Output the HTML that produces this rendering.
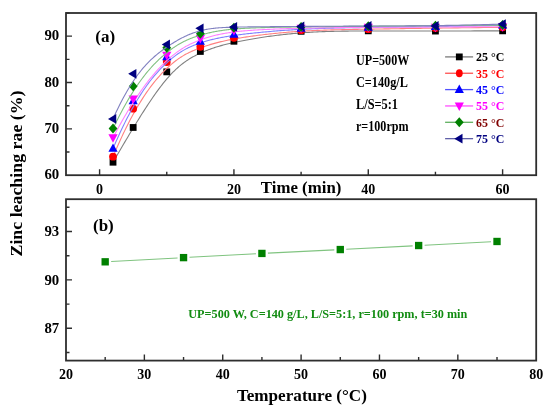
<!DOCTYPE html>
<html><head><meta charset="utf-8"><title>Zinc leaching rate</title><style>
html,body{margin:0;padding:0;background:#fff;width:550px;height:411px;overflow:hidden;}
svg{display:block;}
</style></head><body>
<svg width="550" height="411" viewBox="0 0 550 411">
<rect width="550" height="411" fill="#fff"/>
<polyline points="113.02,162.22 114.53,159.62 116.03,157.04 117.52,154.49 118.99,151.97 120.45,149.47 121.90,147.00 123.34,144.56 124.76,142.15 126.17,139.77 127.57,137.42 128.96,135.09 130.33,132.80 131.70,130.54 133.05,128.31 134.39,126.11 135.71,123.94 137.03,121.80 138.33,119.69 139.62,117.62 140.90,115.58 142.17,113.57 143.43,111.59 144.68,109.65 145.91,107.75 147.13,105.87 148.34,104.04 149.54,102.23 150.73,100.47 151.91,98.74 153.07,97.04 154.23,95.38 155.37,93.76 156.51,92.17 157.63,90.63 158.74,89.12 159.84,87.64 160.93,86.21 162.01,84.82 163.08,83.46 164.13,82.14 165.18,80.87 166.22,79.63 167.24,78.43 168.26,77.27 169.27,76.14 170.27,75.05 171.26,73.99 172.24,72.97 173.21,71.98 174.17,71.02 175.13,70.09 176.08,69.20 177.02,68.33 177.95,67.49 178.88,66.68 179.80,65.90 180.72,65.14 181.62,64.41 182.53,63.70 183.42,63.02 184.32,62.36 185.20,61.72 186.09,61.10 186.96,60.50 187.84,59.93 188.71,59.37 189.57,58.83 190.44,58.30 191.30,57.79 192.15,57.30 193.01,56.82 193.86,56.36 194.71,55.91 195.56,55.47 196.40,55.04 197.25,54.62 198.09,54.21 198.94,53.81 199.78,53.42 200.62,53.04 201.47,52.66 202.31,52.29 203.16,51.92 204.00,51.56 204.85,51.20 205.71,50.85 206.56,50.51 207.42,50.17 208.28,49.84 209.15,49.51 210.03,49.19 210.91,48.87 211.79,48.55 212.69,48.24 213.59,47.94 214.50,47.64 215.42,47.34 216.35,47.04 217.28,46.75 218.23,46.46 219.19,46.18 220.16,45.90 221.14,45.62 222.14,45.35 223.14,45.07 224.16,44.80 225.20,44.53 226.25,44.27 227.31,44.00 228.39,43.74 229.49,43.48 230.60,43.22 231.73,42.96 232.88,42.71 234.04,42.45 235.23,42.20 236.43,41.94 237.65,41.69 238.90,41.43 240.16,41.18 241.45,40.93 242.75,40.68 244.08,40.42 245.42,40.17 246.79,39.92 248.17,39.67 249.57,39.42 250.99,39.18 252.42,38.93 253.87,38.69 255.34,38.44 256.82,38.20 258.31,37.97 259.82,37.73 261.34,37.49 262.88,37.26 264.43,37.03 265.99,36.81 267.56,36.58 269.14,36.36 270.73,36.14 272.33,35.93 273.94,35.72 275.56,35.51 277.19,35.31 278.83,35.11 280.47,34.91 282.12,34.72 283.77,34.53 285.43,34.35 287.10,34.17 288.77,34.00 290.44,33.83 292.12,33.67 293.80,33.51 295.48,33.36 297.17,33.21 298.85,33.07 300.54,32.93 302.22,32.80 303.91,32.68 305.60,32.56 307.29,32.45 308.98,32.34 310.67,32.24 312.37,32.14 314.07,32.05 315.77,31.96 317.48,31.88 319.19,31.81 320.91,31.73 322.64,31.66 324.37,31.60 326.11,31.54 327.86,31.48 329.62,31.43 331.38,31.38 333.15,31.34 334.94,31.30 336.73,31.26 338.54,31.23 340.35,31.19 342.18,31.16 344.02,31.14 345.88,31.11 347.75,31.09 349.63,31.07 351.53,31.06 353.44,31.04 355.37,31.03 357.31,31.02 359.27,31.01 361.25,31.00 363.25,30.99 365.26,30.99 367.30,30.99 369.35,30.98 371.42,30.98 373.52,30.98 375.63,30.98 377.77,30.98 379.94,30.97 382.13,30.97 384.35,30.98 386.61,30.98 388.91,30.98 391.24,30.98 393.62,30.98 396.04,30.98 398.51,30.98 401.03,30.98 403.60,30.98 406.23,30.99 408.91,30.99 411.65,30.99 414.46,30.99 417.34,30.99 420.28,30.99 423.29,30.99 426.38,30.99 429.55,30.99 432.79,30.99 436.11,30.98 439.52,30.98 443.02,30.98 446.61,30.97 450.29,30.97 454.06,30.96 457.93,30.96 461.90,30.95 465.98,30.94 470.16,30.93 474.45,30.92 478.85,30.91 483.37,30.90 488.00,30.89 492.75,30.87 497.62,30.86 502.61,30.84" fill="none" stroke="#808080" stroke-width="1.1" stroke-linejoin="round"/>
<rect x="109.62" y="158.82" width="6.80" height="6.80" fill="#000000"/>
<rect x="129.77" y="124.07" width="6.80" height="6.80" fill="#000000"/>
<rect x="163.36" y="68.46" width="6.80" height="6.80" fill="#000000"/>
<rect x="196.94" y="48.06" width="6.80" height="6.80" fill="#000000"/>
<rect x="230.53" y="37.87" width="6.80" height="6.80" fill="#000000"/>
<rect x="297.70" y="27.91" width="6.80" height="6.80" fill="#000000"/>
<rect x="364.87" y="27.44" width="6.80" height="6.80" fill="#000000"/>
<rect x="432.04" y="27.67" width="6.80" height="6.80" fill="#000000"/>
<rect x="499.21" y="27.44" width="6.80" height="6.80" fill="#000000"/>
<polyline points="113.02,156.66 114.53,153.10 116.03,149.62 117.52,146.24 118.99,142.94 120.45,139.74 121.90,136.61 123.34,133.58 124.76,130.62 126.17,127.75 127.57,124.96 128.96,122.24 130.33,119.61 131.70,117.05 133.05,114.56 134.39,112.14 135.71,109.80 137.03,107.52 138.33,105.32 139.62,103.18 140.90,101.11 142.17,99.10 143.43,97.15 144.68,95.26 145.91,93.43 147.13,91.66 148.34,89.95 149.54,88.29 150.73,86.68 151.91,85.13 153.07,83.63 154.23,82.17 155.37,80.76 156.51,79.40 157.63,78.09 158.74,76.81 159.84,75.58 160.93,74.39 162.01,73.24 163.08,72.12 164.13,71.04 165.18,69.99 166.22,68.98 167.24,68.00 168.26,67.05 169.27,66.14 170.27,65.25 171.26,64.39 172.24,63.57 173.21,62.77 174.17,61.99 175.13,61.25 176.08,60.53 177.02,59.83 177.95,59.16 178.88,58.52 179.80,57.89 180.72,57.29 181.62,56.71 182.53,56.15 183.42,55.61 184.32,55.09 185.20,54.59 186.09,54.10 186.96,53.63 187.84,53.18 188.71,52.74 189.57,52.32 190.44,51.91 191.30,51.51 192.15,51.12 193.01,50.75 193.86,50.39 194.71,50.03 195.56,49.69 196.40,49.35 197.25,49.03 198.09,48.70 198.94,48.39 199.78,48.08 200.62,47.77 201.47,47.47 202.31,47.17 203.16,46.88 204.00,46.59 204.85,46.30 205.71,46.01 206.56,45.73 207.42,45.46 208.28,45.18 209.15,44.91 210.03,44.65 210.91,44.38 211.79,44.12 212.69,43.86 213.59,43.61 214.50,43.35 215.42,43.10 216.35,42.86 217.28,42.61 218.23,42.37 219.19,42.13 220.16,41.89 221.14,41.66 222.14,41.42 223.14,41.19 224.16,40.96 225.20,40.74 226.25,40.51 227.31,40.29 228.39,40.07 229.49,39.84 230.60,39.63 231.73,39.41 232.88,39.19 234.04,38.98 235.23,38.76 236.43,38.55 237.65,38.34 238.90,38.13 240.16,37.92 241.45,37.71 242.75,37.50 244.08,37.30 245.42,37.09 246.79,36.89 248.17,36.69 249.57,36.49 250.99,36.29 252.42,36.09 253.87,35.89 255.34,35.70 256.82,35.50 258.31,35.31 259.82,35.12 261.34,34.94 262.88,34.75 264.43,34.57 265.99,34.39 267.56,34.21 269.14,34.04 270.73,33.86 272.33,33.70 273.94,33.53 275.56,33.36 277.19,33.20 278.83,33.04 280.47,32.89 282.12,32.74 283.77,32.59 285.43,32.44 287.10,32.30 288.77,32.16 290.44,32.03 292.12,31.90 293.80,31.77 295.48,31.65 297.17,31.53 298.85,31.41 300.54,31.30 302.22,31.20 303.91,31.09 305.60,30.99 307.29,30.90 308.98,30.81 310.67,30.72 312.37,30.64 314.07,30.56 315.77,30.48 317.48,30.41 319.19,30.34 320.91,30.27 322.64,30.20 324.37,30.14 326.11,30.08 327.86,30.02 329.62,29.97 331.38,29.92 333.15,29.87 334.94,29.82 336.73,29.77 338.54,29.73 340.35,29.68 342.18,29.64 344.02,29.60 345.88,29.56 347.75,29.53 349.63,29.49 351.53,29.45 353.44,29.42 355.37,29.39 357.31,29.35 359.27,29.32 361.25,29.29 363.25,29.25 365.26,29.22 367.30,29.19 369.35,29.16 371.42,29.12 373.52,29.09 375.63,29.06 377.77,29.02 379.94,28.99 382.13,28.95 384.35,28.92 386.61,28.88 388.91,28.84 391.24,28.81 393.62,28.77 396.04,28.73 398.51,28.69 401.03,28.65 403.60,28.61 406.23,28.57 408.91,28.53 411.65,28.49 414.46,28.45 417.34,28.41 420.28,28.37 423.29,28.32 426.38,28.28 429.55,28.24 432.79,28.19 436.11,28.15 439.52,28.10 443.02,28.06 446.61,28.01 450.29,27.96 454.06,27.92 457.93,27.87 461.90,27.82 465.98,27.77 470.16,27.72 474.45,27.67 478.85,27.62 483.37,27.57 488.00,27.52 492.75,27.47 497.62,27.42 502.61,27.37" fill="none" stroke="#ff8080" stroke-width="1.1" stroke-linejoin="round"/>
<ellipse cx="113.02" cy="156.66" rx="3.90" ry="3.90" fill="#ff0000"/>
<ellipse cx="133.17" cy="108.70" rx="3.90" ry="3.90" fill="#ff0000"/>
<ellipse cx="166.76" cy="62.12" rx="3.90" ry="3.90" fill="#ff0000"/>
<ellipse cx="200.34" cy="46.83" rx="3.90" ry="3.90" fill="#ff0000"/>
<ellipse cx="233.93" cy="37.79" rx="3.90" ry="3.90" fill="#ff0000"/>
<ellipse cx="301.10" cy="30.15" rx="3.90" ry="3.90" fill="#ff0000"/>
<ellipse cx="368.27" cy="29.22" rx="3.90" ry="3.90" fill="#ff0000"/>
<ellipse cx="435.44" cy="28.06" rx="3.90" ry="3.90" fill="#ff0000"/>
<ellipse cx="502.61" cy="27.37" rx="3.90" ry="3.90" fill="#ff0000"/>
<polyline points="113.02,148.55 114.53,145.02 116.03,141.59 117.52,138.25 118.99,135.00 120.45,131.84 121.90,128.76 123.34,125.78 124.76,122.88 126.17,120.06 127.57,117.33 128.96,114.67 130.33,112.10 131.70,109.60 133.05,107.17 134.39,104.82 135.71,102.54 137.03,100.34 138.33,98.20 139.62,96.12 140.90,94.12 142.17,92.18 143.43,90.30 144.68,88.48 145.91,86.72 147.13,85.01 148.34,83.37 149.54,81.78 150.73,80.24 151.91,78.75 153.07,77.31 154.23,75.92 155.37,74.57 156.51,73.27 157.63,72.01 158.74,70.80 159.84,69.62 160.93,68.48 162.01,67.38 163.08,66.31 164.13,65.27 165.18,64.27 166.22,63.30 167.24,62.36 168.26,61.45 169.27,60.56 170.27,59.71 171.26,58.88 172.24,58.08 173.21,57.31 174.17,56.57 175.13,55.84 176.08,55.15 177.02,54.47 177.95,53.82 178.88,53.19 179.80,52.59 180.72,52.00 181.62,51.44 182.53,50.89 183.42,50.36 184.32,49.86 185.20,49.37 186.09,48.89 186.96,48.44 187.84,48.00 188.71,47.57 189.57,47.16 190.44,46.76 191.30,46.38 192.15,46.01 193.01,45.65 193.86,45.30 194.71,44.96 195.56,44.64 196.40,44.32 197.25,44.01 198.09,43.70 198.94,43.41 199.78,43.12 200.62,42.84 201.47,42.56 202.31,42.29 203.16,42.02 204.00,41.76 204.85,41.50 205.71,41.25 206.56,41.00 207.42,40.75 208.28,40.52 209.15,40.28 210.03,40.05 210.91,39.82 211.79,39.60 212.69,39.38 213.59,39.17 214.50,38.95 215.42,38.75 216.35,38.54 217.28,38.34 218.23,38.14 219.19,37.94 220.16,37.75 221.14,37.56 222.14,37.37 223.14,37.19 224.16,37.01 225.20,36.82 226.25,36.65 227.31,36.47 228.39,36.29 229.49,36.12 230.60,35.95 231.73,35.78 232.88,35.61 234.04,35.44 235.23,35.28 236.43,35.11 237.65,34.95 238.90,34.79 240.16,34.62 241.45,34.46 242.75,34.30 244.08,34.14 245.42,33.98 246.79,33.82 248.17,33.66 249.57,33.50 250.99,33.35 252.42,33.19 253.87,33.04 255.34,32.89 256.82,32.73 258.31,32.58 259.82,32.44 261.34,32.29 262.88,32.14 264.43,32.00 265.99,31.86 267.56,31.72 269.14,31.58 270.73,31.44 272.33,31.31 273.94,31.17 275.56,31.04 277.19,30.91 278.83,30.79 280.47,30.66 282.12,30.54 283.77,30.42 285.43,30.30 287.10,30.19 288.77,30.08 290.44,29.97 292.12,29.86 293.80,29.75 295.48,29.65 297.17,29.55 298.85,29.46 300.54,29.37 302.22,29.28 303.91,29.19 305.60,29.11 307.29,29.03 308.98,28.95 310.67,28.87 312.37,28.80 314.07,28.73 315.77,28.66 317.48,28.60 319.19,28.53 320.91,28.47 322.64,28.41 324.37,28.36 326.11,28.30 327.86,28.25 329.62,28.20 331.38,28.15 333.15,28.11 334.94,28.06 336.73,28.02 338.54,27.97 340.35,27.93 342.18,27.89 344.02,27.86 345.88,27.82 347.75,27.78 349.63,27.75 351.53,27.72 353.44,27.68 355.37,27.65 357.31,27.62 359.27,27.59 361.25,27.56 363.25,27.53 365.26,27.50 367.30,27.47 369.35,27.45 371.42,27.42 373.52,27.39 375.63,27.36 377.77,27.33 379.94,27.31 382.13,27.28 384.35,27.25 386.61,27.22 388.91,27.19 391.24,27.16 393.62,27.13 396.04,27.10 398.51,27.07 401.03,27.04 403.60,27.00 406.23,26.97 408.91,26.93 411.65,26.89 414.46,26.85 417.34,26.81 420.28,26.77 423.29,26.72 426.38,26.67 429.55,26.62 432.79,26.57 436.11,26.52 439.52,26.46 443.02,26.41 446.61,26.35 450.29,26.28 454.06,26.22 457.93,26.15 461.90,26.08 465.98,26.00 470.16,25.92 474.45,25.84 478.85,25.76 483.37,25.67 488.00,25.58 492.75,25.48 497.62,25.38 502.61,25.28" fill="none" stroke="#8080ff" stroke-width="1.1" stroke-linejoin="round"/>
<polygon points="113.02,143.55 117.62,151.85 108.42,151.85" fill="#0000ff"/>
<polygon points="133.17,96.05 137.77,104.35 128.57,104.35" fill="#0000ff"/>
<polygon points="166.76,52.03 171.36,60.33 162.16,60.33" fill="#0000ff"/>
<polygon points="200.34,36.50 204.94,44.80 195.74,44.80" fill="#0000ff"/>
<polygon points="233.93,29.55 238.53,37.85 229.33,37.85" fill="#0000ff"/>
<polygon points="301.10,23.52 305.70,31.82 296.50,31.82" fill="#0000ff"/>
<polygon points="368.27,22.37 372.87,30.67 363.67,30.67" fill="#0000ff"/>
<polygon points="435.44,21.67 440.04,29.97 430.84,29.97" fill="#0000ff"/>
<polygon points="502.61,20.28 507.21,28.58 498.01,28.58" fill="#0000ff"/>
<polyline points="113.02,137.66 114.53,134.78 116.03,131.96 117.52,129.20 118.99,126.50 120.45,123.87 121.90,121.29 123.34,118.77 124.76,116.31 126.17,113.91 127.57,111.56 128.96,109.27 130.33,107.03 131.70,104.84 133.05,102.71 134.39,100.63 135.71,98.60 137.03,96.63 138.33,94.70 139.62,92.82 140.90,90.99 142.17,89.20 143.43,87.47 144.68,85.77 145.91,84.13 147.13,82.52 148.34,80.96 149.54,79.44 150.73,77.96 151.91,76.53 153.07,75.13 154.23,73.77 155.37,72.45 156.51,71.17 157.63,69.92 158.74,68.71 159.84,67.54 160.93,66.40 162.01,65.29 163.08,64.21 164.13,63.17 165.18,62.15 166.22,61.17 167.24,60.22 168.26,59.29 169.27,58.40 170.27,57.53 171.26,56.68 172.24,55.87 173.21,55.08 174.17,54.31 175.13,53.57 176.08,52.85 177.02,52.16 177.95,51.49 178.88,50.84 179.80,50.21 180.72,49.60 181.62,49.01 182.53,48.44 183.42,47.89 184.32,47.36 185.20,46.85 186.09,46.35 186.96,45.87 187.84,45.40 188.71,44.95 189.57,44.51 190.44,44.09 191.30,43.67 192.15,43.27 193.01,42.89 193.86,42.51 194.71,42.14 195.56,41.79 196.40,41.44 197.25,41.10 198.09,40.77 198.94,40.44 199.78,40.13 200.62,39.81 201.47,39.51 202.31,39.21 203.16,38.91 204.00,38.62 204.85,38.33 205.71,38.05 206.56,37.78 207.42,37.51 208.28,37.24 209.15,36.98 210.03,36.73 210.91,36.48 211.79,36.23 212.69,35.99 213.59,35.75 214.50,35.52 215.42,35.30 216.35,35.07 217.28,34.86 218.23,34.64 219.19,34.44 220.16,34.23 221.14,34.03 222.14,33.84 223.14,33.65 224.16,33.46 225.20,33.28 226.25,33.10 227.31,32.93 228.39,32.76 229.49,32.59 230.60,32.43 231.73,32.27 232.88,32.12 234.04,31.97 235.23,31.82 236.43,31.68 237.65,31.54 238.90,31.41 240.16,31.28 241.45,31.15 242.75,31.03 244.08,30.91 245.42,30.79 246.79,30.68 248.17,30.57 249.57,30.46 250.99,30.36 252.42,30.26 253.87,30.16 255.34,30.06 256.82,29.97 258.31,29.88 259.82,29.79 261.34,29.71 262.88,29.63 264.43,29.55 265.99,29.47 267.56,29.40 269.14,29.33 270.73,29.26 272.33,29.19 273.94,29.13 275.56,29.06 277.19,29.00 278.83,28.94 280.47,28.88 282.12,28.83 283.77,28.77 285.43,28.72 287.10,28.67 288.77,28.62 290.44,28.57 292.12,28.52 293.80,28.48 295.48,28.43 297.17,28.39 298.85,28.35 300.54,28.31 302.22,28.27 303.91,28.23 305.60,28.19 307.29,28.15 308.98,28.11 310.67,28.08 312.37,28.04 314.07,28.01 315.77,27.97 317.48,27.94 319.19,27.91 320.91,27.88 322.64,27.85 324.37,27.82 326.11,27.79 327.86,27.76 329.62,27.73 331.38,27.70 333.15,27.68 334.94,27.65 336.73,27.63 338.54,27.60 340.35,27.58 342.18,27.56 344.02,27.54 345.88,27.52 347.75,27.50 349.63,27.48 351.53,27.46 353.44,27.44 355.37,27.42 357.31,27.40 359.27,27.39 361.25,27.37 363.25,27.36 365.26,27.34 367.30,27.33 369.35,27.32 371.42,27.30 373.52,27.29 375.63,27.28 377.77,27.27 379.94,27.26 382.13,27.25 384.35,27.24 386.61,27.23 388.91,27.22 391.24,27.21 393.62,27.20 396.04,27.19 398.51,27.18 401.03,27.18 403.60,27.17 406.23,27.16 408.91,27.15 411.65,27.14 414.46,27.13 417.34,27.12 420.28,27.11 423.29,27.10 426.38,27.09 429.55,27.07 432.79,27.06 436.11,27.05 439.52,27.03 443.02,27.01 446.61,27.00 450.29,26.98 454.06,26.96 457.93,26.94 461.90,26.92 465.98,26.90 470.16,26.88 474.45,26.85 478.85,26.82 483.37,26.80 488.00,26.77 492.75,26.74 497.62,26.71 502.61,26.67" fill="none" stroke="#ff80ff" stroke-width="1.1" stroke-linejoin="round"/>
<polygon points="113.02,142.76 117.62,134.26 108.42,134.26" fill="#ff00ff"/>
<polygon points="133.17,104.07 137.77,95.57 128.57,95.57" fill="#ff00ff"/>
<polygon points="166.76,60.27 171.36,51.77 162.16,51.77" fill="#ff00ff"/>
<polygon points="200.34,43.59 204.94,35.09 195.74,35.09" fill="#ff00ff"/>
<polygon points="233.93,35.48 238.53,26.98 229.33,26.98" fill="#ff00ff"/>
<polygon points="301.10,33.16 305.70,24.66 296.50,24.66" fill="#ff00ff"/>
<polygon points="368.27,32.23 372.87,23.73 363.67,23.73" fill="#ff00ff"/>
<polygon points="435.44,32.23 440.04,23.73 430.84,23.73" fill="#ff00ff"/>
<polygon points="502.61,31.77 507.21,23.27 498.01,23.27" fill="#ff00ff"/>
<polyline points="113.02,128.58 114.53,125.43 116.03,122.36 117.52,119.38 118.99,116.48 120.45,113.66 121.90,110.93 123.34,108.27 124.76,105.69 126.17,103.18 127.57,100.75 128.96,98.40 130.33,96.11 131.70,93.89 133.05,91.75 134.39,89.67 135.71,87.65 137.03,85.70 138.33,83.81 139.62,81.98 140.90,80.21 142.17,78.50 143.43,76.84 144.68,75.24 145.91,73.69 147.13,72.19 148.34,70.74 149.54,69.34 150.73,67.99 151.91,66.69 153.07,65.42 154.23,64.20 155.37,63.03 156.51,61.89 157.63,60.78 158.74,59.72 159.84,58.69 160.93,57.69 162.01,56.73 163.08,55.79 164.13,54.88 165.18,54.01 166.22,53.15 167.24,52.33 168.26,51.53 169.27,50.75 170.27,50.00 171.26,49.28 172.24,48.57 173.21,47.89 174.17,47.24 175.13,46.60 176.08,45.99 177.02,45.39 177.95,44.82 178.88,44.26 179.80,43.73 180.72,43.21 181.62,42.71 182.53,42.23 183.42,41.76 184.32,41.32 185.20,40.88 186.09,40.46 186.96,40.06 187.84,39.67 188.71,39.29 189.57,38.93 190.44,38.57 191.30,38.23 192.15,37.90 193.01,37.58 193.86,37.27 194.71,36.97 195.56,36.68 196.40,36.40 197.25,36.12 198.09,35.85 198.94,35.59 199.78,35.34 200.62,35.08 201.47,34.84 202.31,34.60 203.16,34.36 204.00,34.13 204.85,33.90 205.71,33.68 206.56,33.46 207.42,33.25 208.28,33.04 209.15,32.84 210.03,32.64 210.91,32.45 211.79,32.26 212.69,32.07 213.59,31.89 214.50,31.71 215.42,31.54 216.35,31.37 217.28,31.21 218.23,31.05 219.19,30.89 220.16,30.74 221.14,30.59 222.14,30.45 223.14,30.30 224.16,30.17 225.20,30.04 226.25,29.91 227.31,29.78 228.39,29.66 229.49,29.54 230.60,29.43 231.73,29.32 232.88,29.21 234.04,29.11 235.23,29.00 236.43,28.91 237.65,28.81 238.90,28.72 240.16,28.64 241.45,28.55 242.75,28.47 244.08,28.39 245.42,28.32 246.79,28.25 248.17,28.18 249.57,28.11 250.99,28.05 252.42,27.98 253.87,27.93 255.34,27.87 256.82,27.81 258.31,27.76 259.82,27.71 261.34,27.67 262.88,27.62 264.43,27.58 265.99,27.53 267.56,27.49 269.14,27.46 270.73,27.42 272.33,27.38 273.94,27.35 275.56,27.32 277.19,27.29 278.83,27.26 280.47,27.23 282.12,27.20 283.77,27.17 285.43,27.15 287.10,27.12 288.77,27.10 290.44,27.08 292.12,27.05 293.80,27.03 295.48,27.01 297.17,26.99 298.85,26.97 300.54,26.95 302.22,26.93 303.91,26.91 305.60,26.89 307.29,26.87 308.98,26.85 310.67,26.83 312.37,26.81 314.07,26.79 315.77,26.77 317.48,26.75 319.19,26.73 320.91,26.71 322.64,26.69 324.37,26.68 326.11,26.66 327.86,26.64 329.62,26.62 331.38,26.60 333.15,26.58 334.94,26.56 336.73,26.55 338.54,26.53 340.35,26.51 342.18,26.49 344.02,26.47 345.88,26.46 347.75,26.44 349.63,26.42 351.53,26.40 353.44,26.39 355.37,26.37 357.31,26.35 359.27,26.33 361.25,26.32 363.25,26.30 365.26,26.28 367.30,26.26 369.35,26.25 371.42,26.23 373.52,26.21 375.63,26.19 377.77,26.18 379.94,26.16 382.13,26.14 384.35,26.12 386.61,26.10 388.91,26.09 391.24,26.07 393.62,26.05 396.04,26.03 398.51,26.01 401.03,25.99 403.60,25.97 406.23,25.95 408.91,25.92 411.65,25.90 414.46,25.88 417.34,25.85 420.28,25.83 423.29,25.80 426.38,25.78 429.55,25.75 432.79,25.72 436.11,25.69 439.52,25.66 443.02,25.63 446.61,25.60 450.29,25.56 454.06,25.53 457.93,25.49 461.90,25.45 465.98,25.42 470.16,25.38 474.45,25.33 478.85,25.29 483.37,25.25 488.00,25.20 492.75,25.15 497.62,25.10 502.61,25.05" fill="none" stroke="#80c080" stroke-width="1.1" stroke-linejoin="round"/>
<polygon points="113.02,123.58 117.42,128.58 113.02,133.58 108.62,128.58" fill="#008000"/>
<polygon points="133.17,81.13 137.57,86.13 133.17,91.13 128.77,86.13" fill="#008000"/>
<polygon points="166.76,42.76 171.16,47.76 166.76,52.76 162.36,47.76" fill="#008000"/>
<polygon points="200.34,28.85 204.74,33.85 200.34,38.85 195.94,33.85" fill="#008000"/>
<polygon points="233.93,22.83 238.33,27.83 233.93,32.83 229.53,27.83" fill="#008000"/>
<polygon points="301.10,21.90 305.50,26.90 301.10,31.90 296.70,26.90" fill="#008000"/>
<polygon points="368.27,21.21 372.67,26.21 368.27,31.21 363.87,26.21" fill="#008000"/>
<polygon points="435.44,20.74 439.84,25.74 435.44,30.74 431.04,25.74" fill="#008000"/>
<polygon points="502.61,20.05 507.01,25.05 502.61,30.05 498.21,25.05" fill="#008000"/>
<polyline points="113.02,118.89 114.53,115.55 116.03,112.33 117.52,109.21 118.99,106.20 120.45,103.30 121.90,100.50 123.34,97.80 124.76,95.20 126.17,92.69 127.57,90.28 128.96,87.96 130.33,85.72 131.70,83.58 133.05,81.51 134.39,79.53 135.71,77.62 137.03,75.79 138.33,74.03 139.62,72.35 140.90,70.73 142.17,69.18 143.43,67.69 144.68,66.27 145.91,64.90 147.13,63.59 148.34,62.33 149.54,61.12 150.73,59.97 151.91,58.86 153.07,57.79 154.23,56.76 155.37,55.78 156.51,54.83 157.63,53.91 158.74,53.03 159.84,52.18 160.93,51.35 162.01,50.55 163.08,49.77 164.13,49.01 165.18,48.26 166.22,47.54 167.24,46.83 168.26,46.14 169.27,45.46 170.27,44.80 171.26,44.16 172.24,43.53 173.21,42.92 174.17,42.32 175.13,41.74 176.08,41.18 177.02,40.63 177.95,40.09 178.88,39.57 179.80,39.06 180.72,38.57 181.62,38.09 182.53,37.63 183.42,37.18 184.32,36.74 185.20,36.32 186.09,35.90 186.96,35.51 187.84,35.12 188.71,34.75 189.57,34.38 190.44,34.03 191.30,33.70 192.15,33.37 193.01,33.05 193.86,32.75 194.71,32.46 195.56,32.17 196.40,31.90 197.25,31.64 198.09,31.39 198.94,31.15 199.78,30.91 200.62,30.69 201.47,30.48 202.31,30.27 203.16,30.08 204.00,29.89 204.85,29.71 205.71,29.54 206.56,29.38 207.42,29.23 208.28,29.08 209.15,28.94 210.03,28.81 210.91,28.68 211.79,28.56 212.69,28.45 213.59,28.34 214.50,28.24 215.42,28.15 216.35,28.06 217.28,27.97 218.23,27.89 219.19,27.82 220.16,27.75 221.14,27.69 222.14,27.62 223.14,27.57 224.16,27.51 225.20,27.47 226.25,27.42 227.31,27.38 228.39,27.34 229.49,27.30 230.60,27.26 231.73,27.23 232.88,27.20 234.04,27.17 235.23,27.14 236.43,27.12 237.65,27.09 238.90,27.07 240.16,27.05 241.45,27.02 242.75,27.00 244.08,26.98 245.42,26.96 246.79,26.94 248.17,26.92 249.57,26.90 250.99,26.88 252.42,26.86 253.87,26.84 255.34,26.82 256.82,26.81 258.31,26.79 259.82,26.77 261.34,26.76 262.88,26.74 264.43,26.73 265.99,26.71 267.56,26.70 269.14,26.68 270.73,26.67 272.33,26.65 273.94,26.64 275.56,26.63 277.19,26.61 278.83,26.60 280.47,26.59 282.12,26.57 283.77,26.56 285.43,26.55 287.10,26.54 288.77,26.53 290.44,26.51 292.12,26.50 293.80,26.49 295.48,26.48 297.17,26.47 298.85,26.45 300.54,26.44 302.22,26.43 303.91,26.42 305.60,26.41 307.29,26.40 308.98,26.39 310.67,26.37 312.37,26.36 314.07,26.35 315.77,26.34 317.48,26.33 319.19,26.32 320.91,26.31 322.64,26.29 324.37,26.28 326.11,26.27 327.86,26.26 329.62,26.25 331.38,26.24 333.15,26.23 334.94,26.22 336.73,26.21 338.54,26.20 340.35,26.19 342.18,26.18 344.02,26.17 345.88,26.16 347.75,26.15 349.63,26.14 351.53,26.13 353.44,26.13 355.37,26.12 357.31,26.11 359.27,26.10 361.25,26.09 363.25,26.09 365.26,26.08 367.30,26.07 369.35,26.07 371.42,26.06 373.52,26.05 375.63,26.05 377.77,26.04 379.94,26.04 382.13,26.03 384.35,26.03 386.61,26.02 388.91,26.01 391.24,26.00 393.62,25.99 396.04,25.98 398.51,25.97 401.03,25.95 403.60,25.94 406.23,25.92 408.91,25.90 411.65,25.88 414.46,25.85 417.34,25.82 420.28,25.79 423.29,25.76 426.38,25.72 429.55,25.68 432.79,25.63 436.11,25.58 439.52,25.53 443.02,25.47 446.61,25.41 450.29,25.35 454.06,25.27 457.93,25.20 461.90,25.12 465.98,25.03 470.16,24.94 474.45,24.84 478.85,24.74 483.37,24.63 488.00,24.51 492.75,24.39 497.62,24.26 502.61,24.12" fill="none" stroke="#8080c0" stroke-width="1.1" stroke-linejoin="round"/>
<polygon points="108.02,118.89 116.22,113.99 116.22,123.79" fill="#000080"/>
<polygon points="128.17,73.80 136.37,68.90 136.37,78.70" fill="#000080"/>
<polygon points="161.76,44.51 169.96,39.61 169.96,49.41" fill="#000080"/>
<polygon points="195.34,28.29 203.54,23.39 203.54,33.19" fill="#000080"/>
<polygon points="228.93,26.90 237.13,22.00 237.13,31.80" fill="#000080"/>
<polygon points="296.10,26.44 304.30,21.54 304.30,31.34" fill="#000080"/>
<polygon points="363.27,25.98 371.47,21.08 371.47,30.88" fill="#000080"/>
<polygon points="430.44,25.98 438.64,21.08 438.64,30.88" fill="#000080"/>
<polygon points="497.61,24.12 505.81,19.22 505.81,29.02" fill="#000080"/>
<rect x="66.0" y="13.0" width="470.20" height="162.20" fill="none" stroke="#2e2e2e" stroke-width="1.8"/>
<path d="M99.59,175.2v-6 M233.93,175.2v-6 M368.27,175.2v-6 M502.61,175.2v-6 M166.76,175.2v-3.5 M301.10,175.2v-3.5 M435.44,175.2v-3.5 M66.0,128.86h6 M66.0,82.51h6 M66.0,36.17h6 M66.0,152.03h3.5 M66.0,105.69h3.5 M66.0,59.34h3.5 M66.0,13.00h3.5" stroke="#2e2e2e" stroke-width="1.4" fill="none"/>
<text x="99.59" y="194.20" text-anchor="middle" font-family="Liberation Serif, 'Times New Roman', serif" font-weight="bold" font-size="14" fill="#000">0</text>
<text x="233.93" y="194.20" text-anchor="middle" font-family="Liberation Serif, 'Times New Roman', serif" font-weight="bold" font-size="14" fill="#000">20</text>
<text x="368.27" y="194.20" text-anchor="middle" font-family="Liberation Serif, 'Times New Roman', serif" font-weight="bold" font-size="14" fill="#000">40</text>
<text x="502.61" y="194.20" text-anchor="middle" font-family="Liberation Serif, 'Times New Roman', serif" font-weight="bold" font-size="14" fill="#000">60</text>
<text x="59.20" y="179.40" text-anchor="end" font-family="Liberation Serif, 'Times New Roman', serif" font-weight="bold" font-size="14" fill="#000" textLength="14.8" lengthAdjust="spacingAndGlyphs">60</text>
<text x="59.20" y="133.06" text-anchor="end" font-family="Liberation Serif, 'Times New Roman', serif" font-weight="bold" font-size="14" fill="#000" textLength="14.8" lengthAdjust="spacingAndGlyphs">70</text>
<text x="59.20" y="86.71" text-anchor="end" font-family="Liberation Serif, 'Times New Roman', serif" font-weight="bold" font-size="14" fill="#000" textLength="14.8" lengthAdjust="spacingAndGlyphs">80</text>
<text x="59.20" y="40.37" text-anchor="end" font-family="Liberation Serif, 'Times New Roman', serif" font-weight="bold" font-size="14" fill="#000" textLength="14.8" lengthAdjust="spacingAndGlyphs">90</text>
<text x="301.10" y="193.30" text-anchor="middle" font-family="Liberation Serif, 'Times New Roman', serif" font-weight="bold" font-size="17" fill="#000" textLength="80.5" lengthAdjust="spacingAndGlyphs">Time (min)</text>
<text x="95.30" y="41.90" font-family="Liberation Serif, 'Times New Roman', serif" font-weight="bold" font-size="17" fill="#000">(a)</text>
<text x="356.00" y="64.90" font-family="Liberation Serif, 'Times New Roman', serif" font-weight="bold" font-size="13.9" fill="#000" textLength="53.3" lengthAdjust="spacingAndGlyphs">UP=500W</text>
<text x="356.00" y="87.20" font-family="Liberation Serif, 'Times New Roman', serif" font-weight="bold" font-size="13.9" fill="#000" textLength="51.8" lengthAdjust="spacingAndGlyphs">C=140g/L</text>
<text x="356.00" y="109.30" font-family="Liberation Serif, 'Times New Roman', serif" font-weight="bold" font-size="13.9" fill="#000" textLength="42.0" lengthAdjust="spacingAndGlyphs">L/S=5:1</text>
<text x="356.00" y="130.60" font-family="Liberation Serif, 'Times New Roman', serif" font-weight="bold" font-size="13.9" fill="#000" textLength="52.6" lengthAdjust="spacingAndGlyphs">r=100rpm</text>
<line x1="445.1" y1="56.90" x2="473.1" y2="56.90" stroke="#7a7a7a" stroke-width="1.3"/>
<rect x="455.90" y="53.50" width="6.80" height="6.80" fill="#000000"/>
<text x="476.00" y="61.20" font-family="Liberation Serif, 'Times New Roman', serif" font-weight="bold" font-size="13.2" fill="#000000" textLength="28.3" lengthAdjust="spacingAndGlyphs">25 °C</text>
<line x1="445.1" y1="73.25" x2="473.1" y2="73.25" stroke="#ff5050" stroke-width="1.3"/>
<ellipse cx="459.30" cy="73.25" rx="3.40" ry="4.10" fill="#ff0000"/>
<text x="476.00" y="77.55" font-family="Liberation Serif, 'Times New Roman', serif" font-weight="bold" font-size="13.2" fill="#ff0000" textLength="28.3" lengthAdjust="spacingAndGlyphs">35 °C</text>
<line x1="445.1" y1="89.60" x2="473.1" y2="89.60" stroke="#5050ff" stroke-width="1.3"/>
<polygon points="459.30,84.60 463.90,92.90 454.70,92.90" fill="#0000ff"/>
<text x="476.00" y="93.90" font-family="Liberation Serif, 'Times New Roman', serif" font-weight="bold" font-size="13.2" fill="#0000ff" textLength="28.3" lengthAdjust="spacingAndGlyphs">45 °C</text>
<line x1="445.1" y1="105.95" x2="473.1" y2="105.95" stroke="#ff50ff" stroke-width="1.3"/>
<polygon points="459.30,111.05 463.90,102.55 454.70,102.55" fill="#ff00ff"/>
<text x="476.00" y="110.25" font-family="Liberation Serif, 'Times New Roman', serif" font-weight="bold" font-size="13.2" fill="#ff00ff" textLength="28.3" lengthAdjust="spacingAndGlyphs">55 °C</text>
<line x1="445.1" y1="122.30" x2="473.1" y2="122.30" stroke="#60b060" stroke-width="1.3"/>
<polygon points="459.30,117.30 463.70,122.30 459.30,127.30 454.90,122.30" fill="#008000"/>
<text x="476.00" y="126.60" font-family="Liberation Serif, 'Times New Roman', serif" font-weight="bold" font-size="13.2" fill="#800000" textLength="28.3" lengthAdjust="spacingAndGlyphs">65 °C</text>
<line x1="445.1" y1="138.65" x2="473.1" y2="138.65" stroke="#6060a8" stroke-width="1.3"/>
<polygon points="454.30,138.65 462.50,133.75 462.50,143.55" fill="#000080"/>
<text x="476.00" y="142.95" font-family="Liberation Serif, 'Times New Roman', serif" font-weight="bold" font-size="13.2" fill="#000080" textLength="28.3" lengthAdjust="spacingAndGlyphs">75 °C</text>
<path d="M111.17,261.50L177.56,257.95 M189.54,257.31L255.93,253.75 M267.91,253.13L334.29,249.85 M346.28,249.25L412.66,245.83 M424.64,245.21L491.02,241.80" fill="none" stroke="#80c480" stroke-width="1.1"/>
<rect x="101.51" y="258.15" width="7.34" height="7.34" fill="#008000"/>
<rect x="179.88" y="253.95" width="7.34" height="7.34" fill="#008000"/>
<rect x="258.24" y="249.76" width="7.34" height="7.34" fill="#008000"/>
<rect x="336.61" y="245.88" width="7.34" height="7.34" fill="#008000"/>
<rect x="414.98" y="241.85" width="7.34" height="7.34" fill="#008000"/>
<rect x="493.34" y="237.81" width="7.34" height="7.34" fill="#008000"/>
<rect x="66.0" y="199.2" width="470.20" height="161.40" fill="none" stroke="#2e2e2e" stroke-width="1.8"/>
<path d="M144.37,360.6v-6 M222.73,360.6v-6 M301.10,360.6v-6 M379.47,360.6v-6 M457.83,360.6v-6 M105.18,360.6v-3.5 M183.55,360.6v-3.5 M261.92,360.6v-3.5 M340.28,360.6v-3.5 M418.65,360.6v-3.5 M497.02,360.6v-3.5 M66.0,328.32h6 M66.0,279.90h6 M66.0,231.48h6 M66.0,352.53h3.5 M66.0,304.11h3.5 M66.0,255.69h3.5 M66.0,207.27h3.5" stroke="#2e2e2e" stroke-width="1.4" fill="none"/>
<text x="66.00" y="379.30" text-anchor="middle" font-family="Liberation Serif, 'Times New Roman', serif" font-weight="bold" font-size="14" fill="#000">20</text>
<text x="144.37" y="379.30" text-anchor="middle" font-family="Liberation Serif, 'Times New Roman', serif" font-weight="bold" font-size="14" fill="#000">30</text>
<text x="222.73" y="379.30" text-anchor="middle" font-family="Liberation Serif, 'Times New Roman', serif" font-weight="bold" font-size="14" fill="#000">40</text>
<text x="301.10" y="379.30" text-anchor="middle" font-family="Liberation Serif, 'Times New Roman', serif" font-weight="bold" font-size="14" fill="#000">50</text>
<text x="379.47" y="379.30" text-anchor="middle" font-family="Liberation Serif, 'Times New Roman', serif" font-weight="bold" font-size="14" fill="#000">60</text>
<text x="457.83" y="379.30" text-anchor="middle" font-family="Liberation Serif, 'Times New Roman', serif" font-weight="bold" font-size="14" fill="#000">70</text>
<text x="536.20" y="379.30" text-anchor="middle" font-family="Liberation Serif, 'Times New Roman', serif" font-weight="bold" font-size="14" fill="#000">80</text>
<text x="59.20" y="333.12" text-anchor="end" font-family="Liberation Serif, 'Times New Roman', serif" font-weight="bold" font-size="14" fill="#000" textLength="14.8" lengthAdjust="spacingAndGlyphs">87</text>
<text x="59.20" y="284.70" text-anchor="end" font-family="Liberation Serif, 'Times New Roman', serif" font-weight="bold" font-size="14" fill="#000" textLength="14.8" lengthAdjust="spacingAndGlyphs">90</text>
<text x="59.20" y="236.28" text-anchor="end" font-family="Liberation Serif, 'Times New Roman', serif" font-weight="bold" font-size="14" fill="#000" textLength="14.8" lengthAdjust="spacingAndGlyphs">93</text>
<text x="301.90" y="401.10" text-anchor="middle" font-family="Liberation Serif, 'Times New Roman', serif" font-weight="bold" font-size="17" fill="#000" textLength="130" lengthAdjust="spacingAndGlyphs">Temperature (°C)</text>
<text x="93.00" y="230.70" font-family="Liberation Serif, 'Times New Roman', serif" font-weight="bold" font-size="17" fill="#000">(b)</text>
<text x="188.30" y="317.50" font-family="Liberation Serif, 'Times New Roman', serif" font-weight="bold" font-size="13" fill="#128c12" textLength="279" lengthAdjust="spacingAndGlyphs">UP=500 W, C=140 g/L, L/S=5:1, r=100 rpm, t=30 min</text>
<text transform="translate(22.2,173.5) rotate(-90)" text-anchor="middle" font-family="Liberation Serif, 'Times New Roman', serif" font-weight="bold" font-size="17" textLength="166" lengthAdjust="spacingAndGlyphs">Zinc leaching rae (%)</text>
</svg>
</body></html>
